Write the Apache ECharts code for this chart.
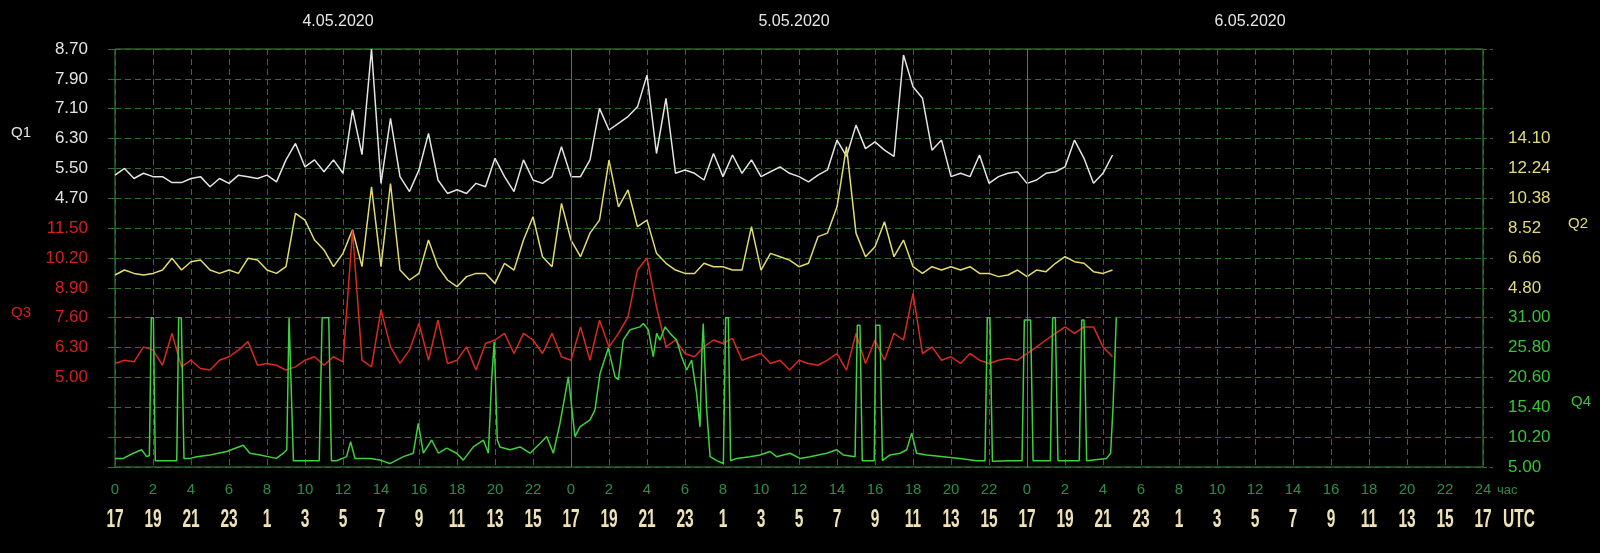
<!DOCTYPE html>
<html>
<head>
<meta charset="utf-8">
<script src="https://cdn.jsdelivr.net/npm/echarts@6/dist/echarts.min.js"></script>
<style>
html,body{margin:0;padding:0;background:#000;}
#chart{width:1600px;height:553px;}
</style>
</head>
<body>
<div id="chart"></div>
<script>
// ---------- data ----------
const dates = ['4.05.2020', '5.05.2020', '6.05.2020'];

const localLabels = [0,2,4,6,8,10,12,14,16,18,20,22, 0,2,4,6,8,10,12,14,16,18,20,22, 0,2,4,6,8,10,12,14,16,18,20,22, 24];
const utcLabels   = [17,19,21,23,1,3,5,7,9,11,13,15, 17,19,21,23,1,3,5,7,9,11,13,15, 17,19,21,23,1,3,5,7,9,11,13,15, 17];

const q1Ticks = [4.70, 5.50, 6.30, 7.10, 7.90, 8.70];
const q3Ticks = [5.00, 6.30, 7.60, 8.90, 10.20, 11.50];
const q2Ticks = [4.80, 6.66, 8.52, 10.38, 12.24, 14.10];
const q4Ticks = [5.00, 10.20, 15.40, 20.60, 25.80, 31.00];

// Q1, Q2, Q3 sampled every half hour (local time, hours from 0:00 of 4.05)
const q1 = [
  5.32, 5.50, 5.23, 5.37, 5.28, 5.28, 5.12, 5.12, 5.23, 5.28, 5.01, 5.23,
  5.10, 5.32, 5.28, 5.23, 5.32, 5.14, 5.73, 6.17, 5.54, 5.73, 5.41, 5.73,
  5.37, 7.07, 5.87, 8.70, 5.10, 6.84, 5.28, 4.88, 5.46, 6.44, 5.19, 4.83,
  4.93, 4.83, 5.10, 5.01, 5.77, 5.28, 4.88, 5.73, 5.19, 5.10, 5.28, 6.08,
  5.28, 5.28, 5.73, 7.11, 6.53, 6.71, 6.89, 7.15, 8.00, 5.90, 7.38, 5.37,
  5.46, 5.37, 5.19, 5.90, 5.28, 5.86, 5.37, 5.73, 5.28, 5.41, 5.54, 5.37,
  5.28, 5.14, 5.32, 5.46, 6.26, 5.82, 6.66, 6.03, 6.21, 5.99, 5.82, 8.54,
  7.69, 7.38, 5.99, 6.26, 5.28, 5.37, 5.28, 5.86, 5.10, 5.28, 5.37, 5.41,
  5.10, 5.19, 5.37, 5.41, 5.54, 6.26, 5.77, 5.10, 5.37, 5.86
];
const q2 = [
  5.60, 5.91, 5.70, 5.60, 5.70, 5.91, 6.64, 5.91, 6.43, 6.53, 5.91, 5.70,
  5.91, 5.70, 6.64, 6.53, 5.91, 5.70, 6.12, 9.44, 9.02, 7.78, 7.16, 6.12,
  6.95, 8.42, 6.12, 11.10, 6.12, 11.30, 5.91, 5.29, 5.70, 7.78, 6.12, 5.29,
  4.87, 5.50, 5.70, 5.70, 5.08, 6.33, 5.91, 7.78, 9.23, 6.74, 6.12, 10.06,
  7.78, 6.74, 8.21, 9.02, 12.76, 9.85, 10.90, 8.61, 9.02, 6.95, 6.33, 5.91,
  5.70, 5.70, 6.33, 6.12, 6.12, 5.91, 5.91, 8.61, 5.91, 6.95, 6.74, 6.53,
  6.12, 6.33, 7.99, 8.21, 9.85, 13.60, 8.21, 6.74, 7.36, 8.92, 6.74, 7.78,
  6.12, 5.70, 6.12, 5.91, 6.12, 5.91, 6.12, 5.70, 5.70, 5.50, 5.60, 5.91,
  5.50, 5.91, 5.81, 6.33, 6.74, 6.43, 6.33, 5.81, 5.70, 5.91
];
const q3 = [
  5.61, 5.75, 5.68, 6.33, 6.19, 5.53, 6.92, 5.46, 5.75, 5.39, 5.32, 5.75,
  5.90, 6.19, 6.56, 5.53, 5.61, 5.53, 5.32, 5.46, 5.75, 5.90, 5.53, 5.90,
  5.68, 11.40, 5.75, 5.46, 7.94, 6.33, 5.61, 6.19, 7.36, 5.75, 7.49, 5.61,
  5.75, 6.33, 5.32, 6.48, 6.63, 6.92, 6.04, 6.92, 6.63, 6.04, 6.92, 5.90,
  5.75, 7.20, 5.75, 7.49, 6.33, 6.92, 7.64, 9.68, 10.20, 8.07, 6.33, 6.63,
  6.04, 5.90, 6.33, 6.63, 6.48, 6.70, 5.75, 5.90, 6.04, 5.61, 5.75, 5.32,
  5.75, 5.61, 5.53, 5.75, 6.04, 5.32, 6.92, 5.61, 6.63, 5.75, 6.92, 6.63,
  8.66, 6.04, 6.33, 5.75, 5.90, 5.61, 6.04, 5.75, 5.61, 5.75, 5.82, 5.75,
  6.04, 6.33, 6.63, 6.92, 7.20, 6.92, 7.20, 7.20, 6.33, 5.90
];

// Q4 read at its own break points (spiky series)
const q4Hours = [
  0, 0.44, 0.96, 1.4, 1.67, 1.81, 1.91, 2.02, 2.12, 3.25, 3.35, 3.49, 3.63, 3.95, 4.3, 5.0, 5.88, 6.75, 7.1, 7.63,
  8.5, 8.86, 9.04, 9.16, 9.26, 9.39, 10.75, 10.9, 11.25, 11.39, 11.67, 12.19, 12.4, 12.63, 13.07,
  13.42, 13.95, 14.47, 15.18, 15.7, 15.96, 16.23, 16.67, 17.02, 17.46, 17.98, 18.33, 18.86, 19.39, 19.65, 19.82,
  19.96, 20.12, 20.26, 20.79, 21.32, 21.84, 22.37, 22.72, 23.07, 23.42, 23.86, 24.21, 24.47, 25.0, 25.26, 25.53, 25.96,
  26.32, 26.49, 26.75, 27.11, 27.63, 27.81, 28.07, 28.33, 28.51, 28.68, 28.95, 29.21, 29.56, 29.82, 30.09, 30.35,
  30.61, 30.79, 30.89, 30.96, 31.14, 31.32, 31.67, 32.02, 32.14, 32.28, 32.4, 32.72, 33.42, 33.95, 34.47, 34.82,
  35.53, 36.05, 36.58, 37.46, 37.98, 38.33, 38.95, 39.07, 39.21, 39.33,
  39.96, 40.04, 40.26, 40.39, 40.79, 41.32, 41.67, 41.93, 42.19, 42.72, 43.6, 44.47, 45.35, 45.79, 45.91, 46.05,
  46.18, 47.11, 47.74, 47.86, 48.19, 48.32, 49.23, 49.35, 49.49, 49.63, 50.75, 50.88, 51.0, 51.14, 52.19, 52.4, 52.53, 52.7
];
const q4Values = [
  6.5, 6.5, 7.4, 8.0, 6.8, 7.0, 31.0, 31.0, 6.1, 6.1, 31.0, 31.0, 6.5, 6.5, 6.8, 7.1, 7.7, 8.8, 7.4, 7.1,
  6.5, 7.4, 8.0, 31.0, 31.0, 6.1, 6.1, 31.0, 31.0, 6.1, 6.1, 6.8, 9.4, 6.5, 6.5,
  6.5, 6.2, 5.6, 6.8, 7.4, 12.6, 7.4, 9.7, 7.4, 8.3, 7.4, 6.2, 8.5, 9.7, 7.4, 20.0,
  26.8, 9.7, 8.5, 8.0, 8.5, 7.4, 9.1, 10.3, 7.4, 12.6, 20.7, 10.3, 12.0, 13.2, 14.9, 21.3, 25.7,
  20.7, 20.2, 27.1, 28.9, 29.4, 30.0, 28.9, 24.2, 28.3, 27.1, 29.4, 28.3, 27.1, 24.2, 21.9, 23.6,
  17.8, 12.0, 25.0, 30.0, 15.0, 6.8, 6.1, 5.6, 31.0, 31.0, 6.1, 6.5, 6.8, 7.1, 7.7, 6.8,
  7.4, 6.5, 6.8, 7.4, 8.0, 7.1, 6.8, 29.7, 29.7, 6.1,
  6.1, 29.7, 29.7, 6.1, 7.1, 7.4, 8.0, 10.9, 7.4, 7.1, 6.8, 6.5, 6.1, 6.1, 31.0, 31.0,
  6.0, 6.1, 6.1, 30.6, 30.6, 6.1, 6.1, 31.0, 31.0, 6.1, 6.1, 30.6, 30.6, 6.1, 6.5, 7.4, 15.5, 31.0
];

// ---------- chart ----------
const halfHours = q1.map((_, i) => i / 2);
const pairs = (xs, ys) => ys.map((v, i) => [xs[i], v]);

const GRID_DASH = '#2d6f2d';
const BORDER = '#3b8f3b';
const C1 = '#e4e4e4', C2 = '#e2dc6c', C3 = '#d82a1e', C4 = '#3fd03f';
const UTC_COLOR = '#eee2b4';
const UTC_FONT = "bold 25px 'Liberation Sans', Arial, sans-serif";
const labelFont = 'Liberation Sans';

function valueAxis(pos, range, ticks, color, margin) {
  return {
    type: 'value', position: pos, min: range[0], max: range[1],
    axisLine: { show: false }, axisTick: { show: false }, splitLine: { show: false },
    axisLabel: {
      customValues: ticks, color: color, fontSize: 17, fontFamily: labelFont, margin: margin,
      formatter: v => Number(v).toFixed(2)
    }
  };
}

const baseGraphics = [
  { type: 'text', x: 21, y: 133, style: { text: 'Q1', fill: C1, font: '15px Liberation Sans', textAlign: 'center', textVerticalAlign: 'middle' } },
  { type: 'text', x: 21, y: 313, style: { text: 'Q3', fill: '#d42020', font: '15px Liberation Sans', textAlign: 'center', textVerticalAlign: 'middle' } },
  { type: 'text', x: 1578, y: 224, style: { text: 'Q2', fill: '#e2dc78', font: '15px Liberation Sans', textAlign: 'center', textVerticalAlign: 'middle' } },
  { type: 'text', x: 1581, y: 402, style: { text: 'Q4', fill: '#35c435', font: '15px Liberation Sans', textAlign: 'center', textVerticalAlign: 'middle' } },
  { type: 'text', x: 1497, y: 490, style: { text: 'час', fill: '#2f8c45', font: '13px Liberation Sans', textAlign: 'left', textVerticalAlign: 'middle' } },
  { type: 'text', x: 1503, y: 520, scaleX: 0.62, style: { text: 'UTC', fill: UTC_COLOR, font: UTC_FONT, textAlign: 'left', textVerticalAlign: 'middle' } }
];

const chart = echarts.init(document.getElementById('chart'));
chart.setOption({
  animation: false,
  backgroundColor: '#000',
  grid: { left: 115, top: 49, width: 1368, height: 418, show: true, borderColor: BORDER, borderWidth: 1,
          containLabel: false, outerBoundsMode: 'none' },
  xAxis: [
    { type: 'value', position: 'bottom', min: 0, max: 72, interval: 2,
      axisLine: { show: false },
      axisTick: { show: true, length: 6, lineStyle: { color: GRID_DASH, type: [3, 2] } },
      splitLine: { show: true, lineStyle: { color: GRID_DASH, type: [6, 4], width: 1 } },
      axisLabel: { interval: 0, margin: 15, color: '#2f8c45', fontSize: 15, fontFamily: labelFont,
                   formatter: v => String(localLabels[Math.round(v / 2)]) } },
    { type: 'value', position: 'top', min: 0, max: 72,
      axisLine: { show: false }, axisTick: { show: false }, splitLine: { show: false },
      axisLabel: { customValues: [12, 36, 60], margin: 19, color: '#e6e6e6', fontSize: 16,
                   fontFamily: labelFont, padding: [0, 10, 0, 0],
                   formatter: v => dates[Math.floor(v / 24)] } }
  ],
  yAxis: [
    { type: 'value', position: 'left', min: 0, max: 14, interval: 1, inverse: true,
      axisLine: { show: false }, axisLabel: { show: false },
      axisTick: { show: true, length: 7, lineStyle: { color: GRID_DASH } },
      splitLine: { show: true, lineStyle: { color: GRID_DASH, type: [6, 4], width: 1 } } },
    valueAxis('left', [-2.5, 8.7], q1Ticks, C1, 27),
    valueAxis('left', [1.1, 19.3], q3Ticks, '#d42020', 27),
    valueAxis('right', [-6.36, 19.68], q2Ticks, '#e2dc78', 25),
    valueAxis('right', [5, 77.8], q4Ticks, '#35c435', 25),
    { type: 'value', position: 'right', min: 0, max: 14, interval: 1,
      axisLine: { show: false }, axisLabel: { show: false }, splitLine: { show: false },
      axisTick: { show: true, length: 10, lineStyle: { color: GRID_DASH, type: [4, 3] } } }
  ],
  graphic: baseGraphics,
  series: [
    { name: 'Q1', type: 'line', xAxisIndex: 0, yAxisIndex: 1, data: pairs(halfHours, q1),
      symbol: 'none', lineStyle: { color: C1, width: 1.5 }, itemStyle: { color: C1 }, z: 3 },
    { name: 'Q2', type: 'line', xAxisIndex: 0, yAxisIndex: 3, data: pairs(halfHours, q2),
      symbol: 'none', lineStyle: { color: C2, width: 1.5 }, itemStyle: { color: C2 }, z: 4 },
    { name: 'Q3', type: 'line', xAxisIndex: 0, yAxisIndex: 2, data: pairs(halfHours, q3),
      symbol: 'none', lineStyle: { color: C3, width: 1.5 }, itemStyle: { color: C3 }, z: 5 },
    { name: 'Q4', type: 'line', xAxisIndex: 0, yAxisIndex: 4, data: pairs(q4Hours, q4Values),
      symbol: 'none', lineStyle: { color: C4, width: 1.5 }, itemStyle: { color: C4 }, z: 6,
      markLine: { silent: true, symbol: ['none', 'none'], label: { show: false },
                  lineStyle: { color: BORDER, type: 'solid', width: 1 },
                  data: [{ xAxis: 24 }, { xAxis: 48 }] } }
  ]
});

// UTC hour row: tall condensed labels placed through the x axis scale
const utcGraphics = utcLabels.map((lab, i) => ({
  type: 'text',
  x: chart.convertToPixel({ xAxisIndex: 0 }, i * 2),
  y: 520,
  scaleX: 0.62,
  style: { text: String(lab), fill: UTC_COLOR, font: UTC_FONT, textAlign: 'center', textVerticalAlign: 'middle' }
}));
chart.setOption({ graphic: baseGraphics.concat(utcGraphics) });
</script>
</body>
</html>
